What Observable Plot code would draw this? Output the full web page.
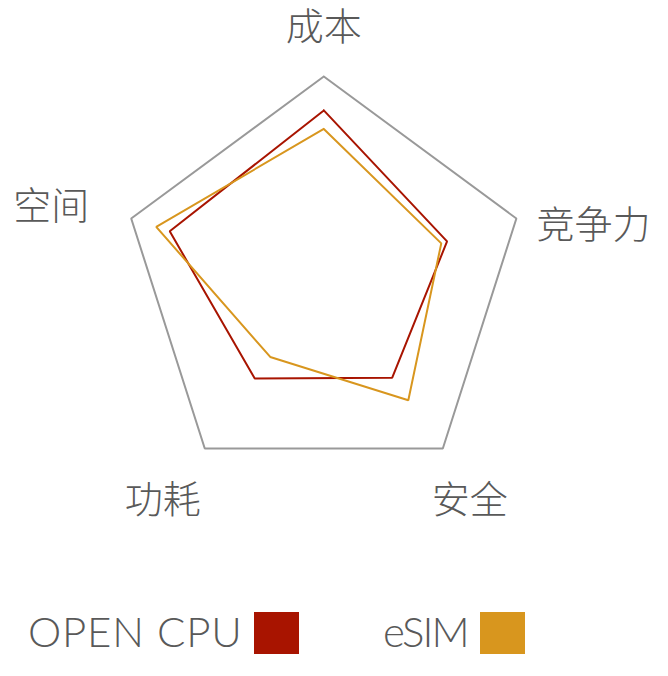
<!DOCTYPE html>
<html>
<head>
<meta charset="utf-8">
<script src="https://cdn.jsdelivr.net/npm/d3@7"></script>
<script src="https://cdn.jsdelivr.net/npm/@observablehq/plot@0.6"></script>
<style>
  html, body { margin: 0; padding: 0; background: #fff; }
  #chart svg { display: block; overflow: visible; }
  .legend { position: relative; height: 76px; font-family: "Lato", "Open Sans", sans-serif; font-weight: 300; font-size: 42px; color: #595959; }
  .legend .txt { position: absolute; top: 12px; height: 42px; line-height: 42px; white-space: nowrap; }
  .legend .sw { position: absolute; top: 12px; width: 45px; height: 42px; }
</style>
</head>
<body>
<div id="chart"></div>
<div class="legend" id="legend"></div>
<script>
const axes = ["成本", "竞争力", "安全", "功耗", "空间"];
const seriesNames = ["OPEN CPU", "eSIM"];
const openCpu = [83.5, 64, 57.5, 58, 80];
const esim = [74.5, 61, 71, 45, 87];
const seriesColors = ["#a81400", "#d8961e"];
const maxValue = 100;

const W = 668, H = 600;
const cx = 323.3, cy = 281.6, sx = 202.5, sy = 205.6;

const n = axes.length;
const ang = i => (i % n) * 2 * Math.PI / n;
const pt = (i, r) => ({x: r * Math.sin(ang(i)), y: r * Math.cos(ang(i))});

const outer = d3.range(n + 1).map(i => pt(i, 1));
const toPoly = vals => d3.range(n + 1).map(i => pt(i, vals[i % n] / maxValue));
const polys = [toPoly(openCpu), toPoly(esim)];

const labelStyle = [
  {dx: 0, dy: -49, anchor: "middle"},
  {dx: 20, dy: 7, anchor: "start"},
  {dx: 27, dy: 52, anchor: "middle"},
  {dx: -42, dy: 52, anchor: "middle"},
  {dx: -80, dy: -12, anchor: "middle"}
];

const labelMarks = axes.map((a, i) => Plot.text([{...pt(i, 1), t: a}], {
  x: "x", y: "y", text: "t",
  dx: labelStyle[i].dx, dy: labelStyle[i].dy, textAnchor: labelStyle[i].anchor,
  fontSize: 38, fill: "#595959", fontFamily: "Noto Sans CJK SC", fontWeight: 300
}));

const chart = Plot.plot({
  width: W, height: H, margin: 0,
  x: {domain: [-cx / sx, (W - cx) / sx], axis: null},
  y: {domain: [-(H - cy) / sy, cy / sy], axis: null},
  marks: [
    Plot.line(outer, {x: "x", y: "y", stroke: "#999", strokeWidth: 2, strokeLinejoin: "miter"}),
    ...polys.map((p, k) => Plot.line(p, {x: "x", y: "y", stroke: seriesColors[k], strokeWidth: 2, strokeLinejoin: "miter"})),
    ...labelMarks
  ]
});
document.getElementById("chart").appendChild(chart);

const legend = document.getElementById("legend");
const textLefts = [28, 383];
const swatchLefts = [254, 480];
const spacing = ["0.8px", "-2px"];
seriesNames.forEach((s, k) => {
  const t = document.createElement("div");
  t.className = "txt";
  t.textContent = s;
  t.style.left = textLefts[k] + "px";
  t.style.letterSpacing = spacing[k];
  t.style.top = "10px";
  const sw = document.createElement("div");
  sw.className = "sw";
  sw.style.left = swatchLefts[k] + "px";
  sw.style.background = seriesColors[k];
  legend.appendChild(t);
  legend.appendChild(sw);
});
</script>
</body>
</html>
